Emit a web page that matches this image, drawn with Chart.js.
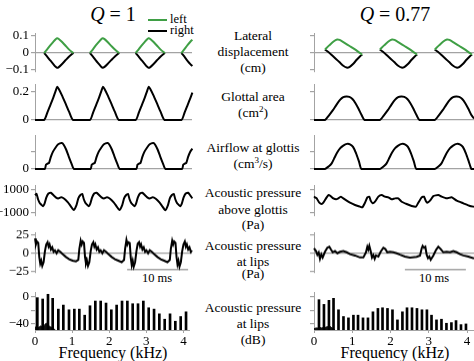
<!DOCTYPE html>
<html><head><meta charset="utf-8">
<script src="https://cdn.jsdelivr.net/npm/chart.js@4.4.0/dist/chart.umd.min.js"></script>
<style>
html,body{margin:0;padding:0;background:#fff;}
#wrap{position:relative;width:474px;height:361px;overflow:hidden;font-family:'Liberation Serif','DejaVu Serif',serif;color:#000;}
canvas{position:absolute;}
.t{position:absolute;white-space:nowrap;line-height:16px;font-size:13.5px;text-align:center;transform:translateX(-50%);}
.ttl{position:absolute;white-space:nowrap;font-size:20px;line-height:22px;transform:translateX(-50%);}
.lg{position:absolute;white-space:nowrap;font-size:12.5px;line-height:14px;}
.sw{position:absolute;width:19px;height:0;}
sup{font-size:9px;vertical-align:5px;line-height:0;}
</style></head><body><div id="wrap">
<div class="ttl" style="left:113px;top:3px"><i>Q</i> = 1</div>
<div class="ttl" style="left:395px;top:3px"><i>Q</i> = 0.77</div>
<div class="sw" style="left:148px;top:19px;border-top:2px solid #3f9f45"></div>
<div class="lg" style="left:170px;top:12px">left</div>
<div class="sw" style="left:148px;top:30px;border-top:2px solid #000"></div>
<div class="lg" style="left:170px;top:23px">right</div>
<div class="t" style="left:253px;top:28px">Lateral</div>
<div class="t" style="left:253px;top:44px">displacement</div>
<div class="t" style="left:253px;top:60px">(cm)</div>
<div class="t" style="left:253px;top:89px">Glottal area</div>
<div class="t" style="left:253px;top:105px">(cm<sup>2</sup>)</div>
<div class="t" style="left:253px;top:140px">Airflow at glottis</div>
<div class="t" style="left:253px;top:156px">(cm<sup>3</sup>/s)</div>
<div class="t" style="left:253px;top:185px">Acoustic pressure</div>
<div class="t" style="left:253px;top:202px">above glottis</div>
<div class="t" style="left:253px;top:217px">(Pa)</div>
<div class="t" style="left:253px;top:238px">Acoustic pressure</div>
<div class="t" style="left:253px;top:254px">at lips</div>
<div class="t" style="left:253px;top:266px">(Pa)</div>
<div class="t" style="left:253px;top:300px">Acoustic pressure</div>
<div class="t" style="left:253px;top:316px">at lips</div>
<div class="t" style="left:253px;top:332px">(dB)</div>
<div class="t" style="left:157px;top:270px;font-size:12.5px">10 ms</div>
<div class="t" style="left:434px;top:270px;font-size:12.5px">10 ms</div>
<div class="t" style="left:113px;top:343px;font-size:16px;line-height:20px">Frequency (kHz)</div>
<div class="t" style="left:395px;top:343px;font-size:16px;line-height:20px">Frequency (kHz)</div>
</div>
<script>
// ---------- DATA (time in ms) ----------
// Q = 1 (left column)
const dispT_L = [1.5,2.0,2.5,3.0,3.35,3.6,3.9,4.4,5.0,5.6,6.3, 7.5, 9.0,9.5,10.0,10.5,10.85,11.1,11.4,11.9,12.5,13.1,13.8, 15.0, 16.5,17.0,17.5,18.0,18.35,18.6,18.9,19.4,20.0,20.6,21.3, 22.5, 24.0,24.5,25.0,25.5,25.8];
const dispLeft_L = [0,0.022,0.045,0.066,0.08,0.087,0.083,0.066,0.043,0.02,0, null, 0,0.022,0.046,0.067,0.081,0.087,0.082,0.065,0.042,0.02,0, null, 0,0.022,0.045,0.066,0.08,0.087,0.083,0.066,0.043,0.02,0, null, 0,0.023,0.047,0.068,0.078];
const dispRight_L = [0,-0.021,-0.044,-0.065,-0.08,-0.087,-0.083,-0.066,-0.043,-0.02,0, null, 0,-0.021,-0.045,-0.066,-0.081,-0.087,-0.082,-0.065,-0.042,-0.02,0, null, 0,-0.021,-0.044,-0.065,-0.08,-0.087,-0.083,-0.066,-0.043,-0.02,0, null, 0,-0.022,-0.046,-0.067,-0.077];
const areaT_L = [0,1.5,2.0,2.5,3.0,3.4,3.65,3.9,4.4,5.0,5.6,6.25, 9.0,9.5,10.0,10.5,10.9,11.15,11.4,11.9,12.5,13.1,13.75, 16.5,17.0,17.5,18.0,18.4,18.65,18.9,19.4,20.0,20.6,21.25, 24.0,24.5,25.0,25.5,25.8];
const area_L = [0,0,0.05,0.105,0.16,0.21,0.237,0.222,0.178,0.118,0.058,0, 0,0.05,0.105,0.16,0.21,0.237,0.222,0.178,0.118,0.058,0, 0,0.05,0.105,0.16,0.21,0.237,0.222,0.178,0.118,0.058,0, 0,0.05,0.105,0.16,0.195];
const flowT_L = [0,1.6,1.8,2.0,2.3,2.6,2.95,3.3,3.8,4.4,4.7,5.1,5.5,6.0,6.4, 9.1,9.3,9.5,9.8,10.1,10.45,10.8,11.3,11.9,12.2,12.6,13.0,13.5,13.9, 16.6,16.8,17.0,17.3,17.6,17.95,18.3,18.8,19.4,19.7,20.1,20.5,21.0,21.4, 24.1,24.3,24.5,24.8,25.1,25.45,25.8];
const flow_L = [0,0,0.1,0.12,0.14,0.28,0.4,0.48,0.57,0.6,0.56,0.45,0.3,0.12,0, 0,0.1,0.12,0.14,0.28,0.4,0.48,0.57,0.6,0.56,0.45,0.3,0.12,0, 0,0.1,0.12,0.14,0.28,0.4,0.48,0.57,0.6,0.56,0.45,0.3,0.12,0, 0,0.1,0.12,0.14,0.28,0.4,0.47];
const pgT_L = [0,0.25,0.5,0.8,1.05,1.3,1.55,1.85,2.2,2.6,3.0,3.4,3.8,4.3,4.8,5.4,5.9,6.35,6.8, 7.1,7.45,7.75,8.0,8.3,8.55,8.8,9.05,9.35,9.7,10.1,10.5,10.9,11.3,11.8,12.3,12.9,13.4,13.85,14.3, 14.6,14.95,15.25,15.5,15.8,16.05,16.3,16.55,16.85,17.2,17.6,18.0,18.4,18.8,19.3,19.8,20.4,20.9,21.35,21.8, 22.1,22.45,22.75,23.0,23.3,23.55,23.8,24.05,24.35,24.7,25.1,25.5,25.8];
const pg_L = [500,620,150,-200,-320,-450,-250,300,650,720,520,320,220,330,200,-120,-480,-780,-350, 230,520,620,150,-200,-330,-450,-250,300,650,720,520,320,220,330,200,-120,-480,-780,-350, 230,520,620,150,-200,-330,-450,-250,300,650,720,520,320,220,330,200,-120,-480,-800,-350, 230,520,620,150,-200,-330,-450,-250,300,650,720,450,230];
const lpT_L = [0,0.15,0.31,0.53,0.7,0.86,1.02,1.19,1.41,1.63,1.84,2.06,2.23,2.39,2.61,2.83,3.05,3.27,3.54,3.81,4.14,4.52,5.07,5.61,6.16,6.71,7.1, 7.27,7.49,7.65,7.81,8.03,8.2,8.36,8.52,8.69,8.91,9.13,9.34,9.56,9.73,9.89,10.11,10.33,10.55,10.77,11.04,11.31,11.64,12.02,12.57,13.11,13.66,14.21,14.6, 14.77,14.99,15.15,15.31,15.53,15.7,15.86,16.02,16.19,16.41,16.63,16.84,17.06,17.23,17.39,17.61,17.83,18.05,18.27,18.54,18.81,19.14,19.52,20.07,20.61,21.16,21.71,22.1, 22.27,22.49,22.65,22.81,23.03,23.2,23.36,23.52,23.69,23.91,24.13,24.34,24.56,24.73,24.89,25.11,25.33,25.55,25.74];
const lp_L = [20,12,16,14,-5,-14,-10,-17,-12,3,12,15,9,12,5,8,2,4,0,4,2,-1,-5,-8,-10,-11,-9, 6,17,12,16,14,-5,-14,-10,-17,-12,3,12,15,9,12,5,8,2,4,0,4,2,-1,-5,-8,-10,-12,-9, 6,18,12,15,14,-6,-16,-10,-18,-12,3,13,15,9,12,5,8,2,4,0,4,2,-1,-5,-8,-10,-12,-9, 6,17,12,16,14,-5,-15,-10,-18,-12,3,12,16,9,12,5,8,2,4];
const barT_L = [15.1,25.1];
const specF_L = [0.063,0.207,0.35,0.476,0.629,0.764,0.916,1.06,1.195,1.339,1.482,1.626,1.77,1.914,2.057,2.2,2.345,2.489,2.632,2.776,2.92,3.064,3.208,3.351,3.495,3.639,3.782,3.926,4.07];
const specDb_L = [-1,-3,4,-2,-18,-12,-19,-18,-18,-27,-13,-6,-6,-9,-19,-12,-6,-6,-10,-10,-6,-16,-18,-25,-33,-25,-36,-29,-22];
const noiseF_L = [0,0.05,0.1,0.15,0.2,0.25,0.3,0.35,0.4,0.45,0.5,0.55];
const noiseDb_L = [-45,-44,-45,-43,-44,-42,-39,-41,-44,-45,-47,-49];

// Q = 0.77 (right column)
const dispGT_R = [1.8,2.5,3.2,3.8,4.2,5.0,5.9,6.9,7.9, 9.0, 10.8,11.5,12.2,12.8,13.2,14.0,14.9,15.9,16.9, 18.0, 19.8,20.5,21.2,21.8,22.2,23.0,23.9,24.9,25.9];
const dispG_R = [0.02,0.045,0.068,0.08,0.077,0.06,0.04,0.017,-0.01, null, 0.02,0.045,0.068,0.08,0.077,0.06,0.04,0.017,-0.01, null, 0.02,0.045,0.068,0.08,0.077,0.06,0.04,0.017,-0.01];
const dispBT_R = [1.8,2.4,3.0,3.6,4.2,4.8,5.35,5.8,6.4,7.0,7.6,7.9, 9.0, 10.8,11.4,12.0,12.6,13.2,13.8,14.35,14.8,15.4,16.0,16.6,16.9, 18.0, 19.8,20.4,21.0,21.6,22.2,22.8,23.35,23.8,24.4,25.0,25.6,25.9];
const dispB_R = [0.02,0.005,-0.015,-0.035,-0.055,-0.075,-0.086,-0.083,-0.065,-0.04,-0.018,-0.01, null, 0.02,0.005,-0.015,-0.035,-0.055,-0.075,-0.086,-0.083,-0.065,-0.04,-0.018,-0.01, null, 0.02,0.005,-0.015,-0.035,-0.055,-0.075,-0.086,-0.083,-0.065,-0.04,-0.018,-0.01];
const areaT_R = [0,1.8,2.4,3.1,3.7,4.3,4.8,5.3,5.8,6.3,6.8,7.3,7.8,8.3, 10.8,11.4,12.1,12.7,13.3,13.8,14.3,14.8,15.3,15.8,16.3,16.8,17.3, 19.8,20.4,21.1,21.7,22.3,22.8,23.3,23.8,24.3,24.8,25.3,25.8,26.23];
const area_R = [0,0,0.03,0.07,0.11,0.145,0.163,0.168,0.165,0.15,0.12,0.08,0.035,0, 0,0.03,0.07,0.11,0.145,0.163,0.168,0.165,0.15,0.12,0.08,0.035,0, 0,0.03,0.07,0.11,0.145,0.163,0.168,0.165,0.15,0.12,0.08,0.035,0.01];
const flowT_R = [0,1.8,2.4,2.9,3.4,3.8,4.3,4.8,5.4,5.9,6.4,6.9,7.4,7.8, 10.8,11.4,11.9,12.4,12.8,13.3,13.8,14.4,14.9,15.4,15.9,16.4,16.8, 19.8,20.4,20.9,21.4,21.8,22.3,22.8,23.4,23.9,24.4,24.9,25.4,25.8,26.23];
const flow_R = [0,0,0.06,0.13,0.27,0.38,0.48,0.54,0.58,0.57,0.51,0.36,0.16,0, 0,0.06,0.13,0.27,0.38,0.48,0.54,0.58,0.57,0.51,0.36,0.16,0, 0,0.06,0.13,0.27,0.38,0.48,0.54,0.58,0.57,0.51,0.36,0.16,0,0];
const pgT_R = [0,0.16,0.44,0.87,1.26,1.53,1.97,2.35,2.73,3.17,3.61,3.99,4.43,4.81,5.36,5.9,6.72,7.54,7.92,8.36,8.74,9.07,9.29,9.62,10.0,10.55,11.09,11.64,12.19,12.73,13.28,13.83,14.37,15.19,16.01,16.72,17.1,17.65,18.03,18.31,18.58,19.02,19.56,20.38,20.93,21.75,22.57,23.39,24.48,25.57,26.23];
const pg_R = [400,320,230,-145,-260,-145,230,520,430,230,145,230,380,230,30,-145,-350,-490,-550,-145,320,380,30,-200,-60,380,520,380,320,145,230,230,-60,-260,-430,-490,-145,320,380,30,-145,30,430,520,380,230,320,30,-200,-430,-500];
const lpT_R = [0,0.33,0.55,0.77,0.98,1.2,1.42,1.8,2.19,2.51,2.73,3.06,3.44,3.83,4.26,4.81,5.36,5.9,6.72,7.54,8.09,8.52,8.74,8.91,9.07,9.29,9.51,9.73,9.95,10.16,10.55,10.93,11.37,11.69,12.02,12.46,13.0,13.55,14.1,14.92,15.74,16.83,17.38,17.65,17.81,18.03,18.25,18.47,18.69,18.91,19.13,19.56,20.0,20.38,20.77,21.2,21.75,22.3,22.84,23.39,23.93,24.48,25.3,26.23];
const lp_R = [6.6,3,-2,1,-7.5,-1.5,-5.7,2,7.5,8.8,5.7,1.3,3,0,2,3,1.3,-1.3,-3,-5.7,-5.7,1.3,8.8,5,10,3,-5.7,-2.5,-7.5,-3,-4.4,2,7.5,5.7,1.3,2,1.3,0,-2,-4.4,-5.7,-4.8,-3,6.6,10,7.5,8.8,-2,-6.6,-4.4,-8.8,-3,4.4,8.8,5.7,1.3,2,1.3,3,1.3,-1.3,-3,-4.4,-6.8];
const barT_R = [14.9,24.9];
const specF_R = [0.13,0.26,0.39,0.51,0.64,0.77,0.90,1.03,1.15,1.28,1.41,1.54,1.67,1.79,1.92,2.05,2.18,2.31,2.43,2.56,2.69,2.82,2.95,3.07,3.20,3.33,3.46,3.59,3.71,3.84,3.97];
const specDb_R = [-4,-11,-5,-2,-19,-29,-31,-27,-27,-31,-31,-22,-17,-16,-17,-19,-34,-22,-16,-16,-17,-19,-19,-27,-34,-33,-39,-38,-35,-41,-40];
const noiseF_R = [0,0.05,0.1,0.15,0.2,0.25,0.3,0.35,0.4,0.45,0.5,0.55];
const noiseDb_R = [-47,-46,-46,-45,-46,-45,-45,-44,-43,-45,-47,-49];

// tick values
const dispTicks = [-0.1,0,0.1], areaTicks = [0,0.1,0.2], flowTicks = [0,0.2,0.4,0.6];
const pgTicks = [-1000,0,1000], lpTicks = [-25,0,25], specTicks = [-40,-20,0], freqTicks = [0,1,2,3,4];
const dispLabels = [-0.1,0,0.1], areaLabels = [0,0.2], flowLabels = [0,0.6];
const pgLabels = [-1000,0,1000], lpLabels = [-25,0,25], specLabels = [-40,0];
const barY = [-22,-22];

// ---------- drawing ----------
const FONT = "'Liberation Serif','DejaVu Serif',serif";
const GRAY = '#a3a3a3';
const GREEN = '#3f9f45';
const PAD = 10;
const XMAX_L = 157/6.1, XMAX_R = 160/6.1;
function mkCanvas(x, y, w, h) {
  const c = document.createElement('canvas');
  c.width = w; c.height = h;
  c.style.left = x + 'px'; c.style.top = y + 'px';
  c.style.width = w + 'px'; c.style.height = h + 'px';
  document.getElementById('wrap').appendChild(c);
  return c;
}
const pts = (T, V) => T.map((t, i) => ({x: t, y: V[i]}));
const fmt = v => String(v).replace('-', '\u2212');
function yAxis(p) {
  return {
    type: 'linear', min: p.min, max: p.max,
    afterBuildTicks: s => { s.ticks = p.ticks.map(v => ({value: v})); },
    afterFit: s => { s.width = p.axisW; },
    border: {display: true, color: GRAY, width: 1},
    grid: {
      drawOnChartArea: true,
      color: c => (p.zero && c.tick && c.tick.value === 0) ? GRAY : 'rgba(0,0,0,0)',
      tickColor: GRAY, tickLength: 4, lineWidth: 1.2
    },
    ticks: {
      callback: v => (p.labels.includes(v)) ? fmt(v) : '',
      font: {family: FONT, size: 13}, color: '#000', padding: 2
    }
  };
}
const line = (T, V, color, w, tension) => ({type: 'line', data: pts(T, V), borderColor: color, borderWidth: w || 2, pointRadius: 0, tension: tension === undefined ? 0.2 : tension, spanGaps: false, clip: 6, fill: false});
const base = () => ({responsive: false, animation: false, devicePixelRatio: 1, events: [],
  plugins: {legend: {display: false}, tooltip: {enabled: false}}});

function timePanel(side, top, bottom, y, datasets) {
  const L = side === 'L';
  const c = mkCanvas(L ? 0 : 306, top - PAD, L ? 195 : 168, bottom - top + 2 * PAD);
  const o = base();
  o.layout = {padding: {left: 0, right: L ? 3 : 0, top: PAD, bottom: PAD}};
  o.scales = {
    x: {type: 'linear', min: 0, max: L ? XMAX_L : XMAX_R, display: false},
    y: yAxis({min: y.min, max: y.max, ticks: y.ticks, labels: L ? y.labels : [], zero: true, axisW: L ? 35 : 8})
  };
  new Chart(c, {type: 'line', data: {datasets}, options: o});
}
function specPanel(side, F, H, NF, ND) {
  const L = side === 'L';
  const top = 292, bottom = 330, MIN = -49;
  const c = mkCanvas(L ? 0 : 306, top - PAD, L ? 195 : 168, bottom - top + PAD + 24);
  const o = base();
  o.layout = {padding: {left: 0, right: L ? 6 : 0, top: PAD, bottom: 4}};
  o.scales = {
    x: {type: 'linear', min: 0, max: L ? 4.15 : 4.18, offset: false,
        afterBuildTicks: s => { s.ticks = freqTicks.map(v => ({value: v})); },
        afterFit: s => { s.height = 20; },
        border: {display: true, color: GRAY, width: 1},
        grid: {drawOnChartArea: false, offset: false, tickLength: 3, tickColor: GRAY},
        ticks: {font: {family: FONT, size: 13}, color: '#000', padding: 1, maxRotation: 0, autoSkip: false}},
    y: yAxis({min: MIN, max: 7.4, ticks: specTicks, labels: L ? specLabels : [], zero: false, axisW: L ? 35 : 8})
  };
  new Chart(c, {type: 'bar', data: {datasets: [
    {type: 'line', data: pts(NF, ND), fill: 'start', backgroundColor: '#111', borderColor: '#111', borderWidth: 1, pointRadius: 0, tension: 0.3, order: 2},
    {type: 'bar', data: F.map((f, i) => ({x: f, y: [MIN, H[i]]})), backgroundColor: '#000', barThickness: 2, order: 1}
  ]}, options: o});
}

// left column
timePanel('L', 33, 72, {min: -0.112, max: 0.118, ticks: dispTicks, labels: dispLabels},
  [line(dispT_L, dispLeft_L, GREEN), line(dispT_L, dispRight_L, '#000')]);
timePanel('L', 84, 120, {min: 0, max: 0.257, ticks: areaTicks, labels: areaLabels},
  [line(areaT_L, area_L, '#000')]);
timePanel('L', 135, 169, {min: 0, max: 0.785, ticks: flowTicks, labels: flowLabels},
  [line(flowT_L, flow_L, '#000')]);
timePanel('L', 185, 216, {min: -1300, max: 1390, ticks: pgTicks, labels: pgLabels},
  [line(pgT_L, pg_L, '#000', 2, 0.15)]);
timePanel('L', 232, 272.5, {min: -26.5, max: 28.5, ticks: lpTicks, labels: lpLabels},
  [line(lpT_L, lp_L, '#000', 2, 0), line(barT_L, barY, GRAY, 1.3, 0)]);
specPanel('L', specF_L, specDb_L, noiseF_L, noiseDb_L);

// right column
timePanel('R', 33, 72, {min: -0.112, max: 0.118, ticks: dispTicks},
  [line(dispGT_R, dispG_R, GREEN), line(dispBT_R, dispB_R, '#000')]);
timePanel('R', 84, 120, {min: 0, max: 0.257, ticks: areaTicks},
  [line(areaT_R, area_R, '#000')]);
timePanel('R', 135, 169, {min: 0, max: 0.785, ticks: flowTicks},
  [line(flowT_R, flow_R, '#000')]);
timePanel('R', 185, 216, {min: -1300, max: 1390, ticks: pgTicks},
  [line(pgT_R, pg_R, '#000', 2, 0.15)]);
timePanel('R', 232, 272.5, {min: -26.5, max: 28.5, ticks: lpTicks},
  [line(lpT_R, lp_R, '#000', 2, 0), line(barT_R, barY, GRAY, 1.3, 0)]);
specPanel('R', specF_R, specDb_R, noiseF_R, noiseDb_R);
</script>
</body></html>
